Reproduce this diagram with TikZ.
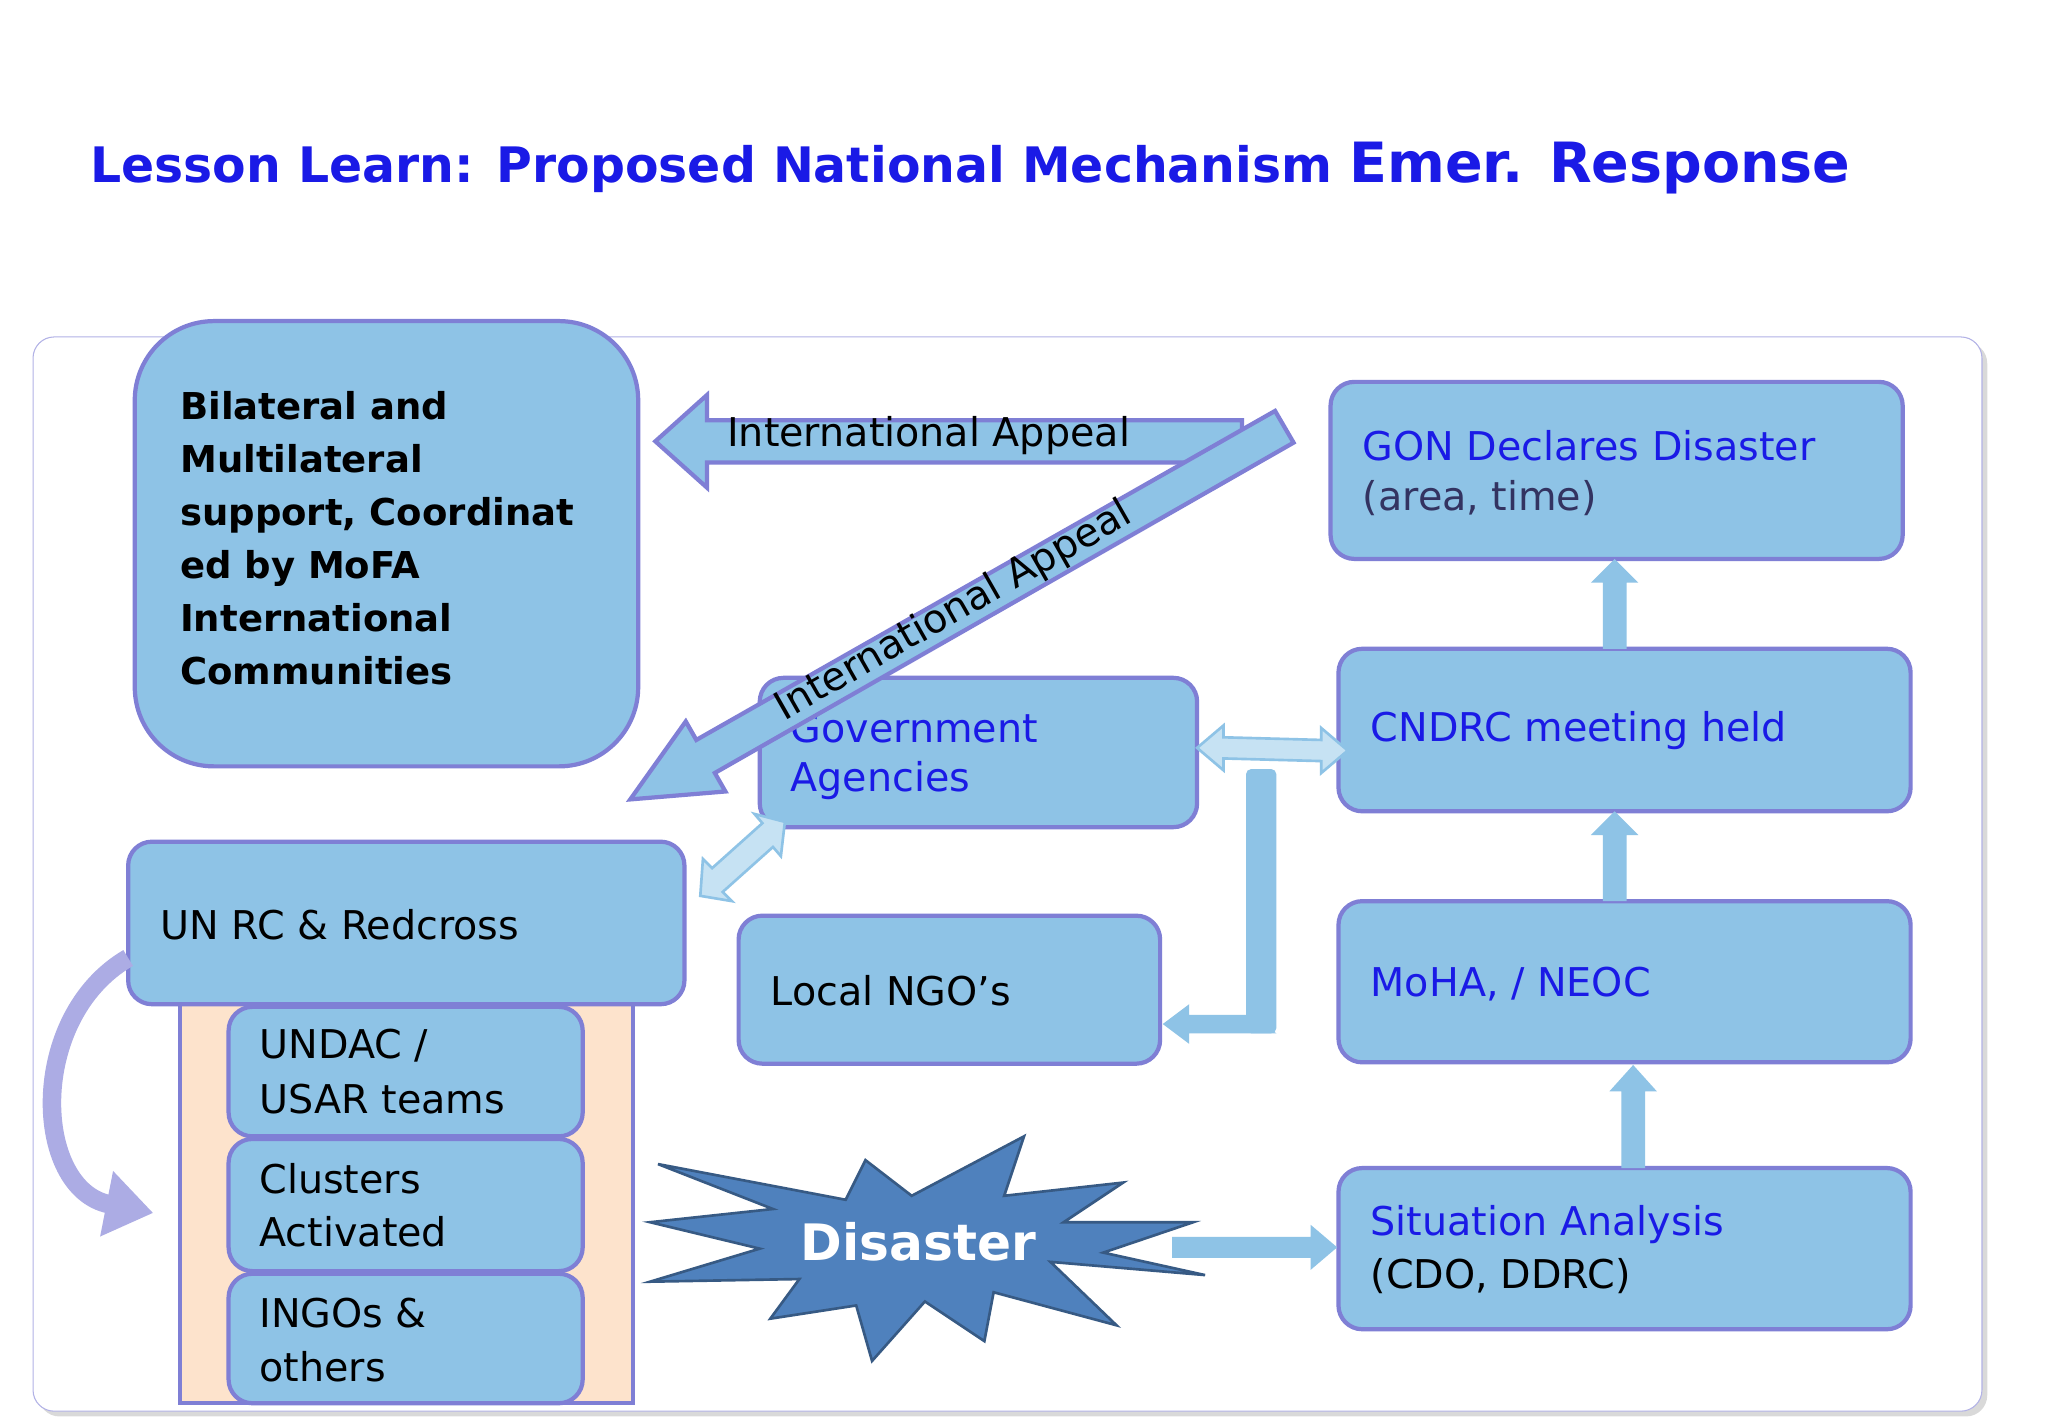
\documentclass[tikz,border=0pt]{standalone}
\usepackage{fontspec}
\setmainfont{DejaVu Sans}
\usetikzlibrary{arrows.meta}
\definecolor{lb}{HTML}{8EC3E6}
\definecolor{pb}{HTML}{7F7FD5}
\definecolor{tb}{HTML}{1A1AE6}
\definecolor{peach}{HTML}{FDE3CC}
\definecolor{lite}{HTML}{C6E2F3}
\definecolor{dis}{HTML}{4F81BD}
\tikzset{
 box/.style={draw=pb,line width=1.6pt,fill=lb,rounded corners=9pt},
 txt/.style={anchor=west,align=left,font=\fontsize{15}{20}\selectfont,inner sep=0pt},
 barrow/.style={fill=lb,draw=none},
 larrow/.style={fill=lite,draw=lb,line width=1pt}
}
\begin{document}
\begin{tikzpicture}[x=0.5pt,y=-0.5pt]
\useasboundingbox (0,0) rectangle (1550,1073);
\node[anchor=west,text=tb,font=\bfseries\fontsize{18.5}{22}\selectfont,inner sep=0] (title) at (68,127) {Lesson Learn: Proposed National Mechanism {\fontsize{21}{22}\selectfont Emer. Response}};
% frame
\fill[gray!30,rounded corners=8pt] (29,259) rectangle (1504,1072);
\draw[pb!60,fill=white,rounded corners=8pt] (25,255) rectangle (1500,1068);
% big box
\draw[box,rounded corners=30pt] (102,243) rectangle (483,580);
\node[txt,anchor=north west,font=\bfseries\fontsize{14}{20}\selectfont] (bil) at (136,296) {Bilateral and\\Multilateral\\support, Coordinat\\ed by MoFA\\International\\Communities};
% right column
\draw[box] (1007,289) rectangle (1440,423);
\node[txt,text=tb] (gon) at (1031,337) {GON Declares Disaster};
\node[txt,text=black!70!blue!60!gray] (gon2) at (1031,377) {(area, time)};
\draw[box] (1013,491) rectangle (1446,614);
\node[txt,text=tb] (cnd) at (1037,553) {CNDRC meeting held};
\draw[box] (1013,682) rectangle (1446,804);
\node[txt,text=tb] (moha) at (1037,745) {MoHA, / NEOC};
\draw[box] (1013,884) rectangle (1446,1006);
\node[txt,text=tb] (sit) at (1037,927) {Situation Analysis};
\node[txt] (sit2) at (1037,966) {(CDO, DDRC)};
% middle
\draw[box] (575,513) rectangle (906,626);
\node[txt,text=tb] (gov) at (598,551) {Government};
\node[txt,text=tb] (gov2) at (598,591) {Agencies};
\draw[box] (559,693) rectangle (878,805);
\node[txt] (ngo) at (583,750) {Local NGO’s};
% left
\draw[pb,line width=1.6pt,fill=peach] (136,740) rectangle (479,1062);
\draw[box] (97,637) rectangle (518,760);
\node[txt] (un) at (121,700) {UN RC \& Redcross};
\draw[box] (173,762) rectangle (441,860);
\node[txt] (u1) at (196,791) {UNDAC /};
\node[txt] (u2) at (196,832) {USAR teams};
\draw[box] (173,862) rectangle (441,962);
\node[txt] (c1) at (196,892) {Clusters};
\node[txt] (c2) at (196,932) {Activated};
\draw[box] (173,964) rectangle (441,1062);
\node[txt] (i1) at (196,994) {INGOs \&};
\node[txt] (i2) at (196,1034) {others};
% curved arrow
\draw[line width=7pt,color=pb!65,-{Triangle[length=18pt,width=24pt]}] (97,725) .. controls (20,770) and (25,900) .. (116,918);
% up arrows
\fill[barrow] (1227,884) -- (1227,826) -- (1218,826) -- (1236,806) -- (1254,826) -- (1245,826) -- (1245,884) -- cycle;
\fill[barrow] (1213,682) -- (1213,632) -- (1204,632) -- (1222,614) -- (1240,632) -- (1231,632) -- (1231,682) -- cycle;
\fill[barrow] (1213,491) -- (1213,441) -- (1204,441) -- (1222,423) -- (1240,441) -- (1231,441) -- (1231,491) -- cycle;
\fill[barrow] (887,936) -- (992,936) -- (992,927) -- (1012,944) -- (992,961) -- (992,952) -- (887,952) -- cycle;
% double arrow CNDRC-Gov
\draw[larrow] (906,566) -- (926,549) -- (926,558) -- (1000,560) -- (1000,551) -- (1020,568) -- (1000,585) -- (1000,576) -- (926,574) -- (926,583) -- cycle;
% vertical bar to Local NGO
\fill[barrow,rounded corners=2pt] (943,582) rectangle (966,782);
\fill[barrow] (966,782) -- (900,782) -- (900,790) -- (880,775) -- (900,760) -- (900,768) -- (943,768) -- cycle;
% diagonal double arrow
\draw[larrow] (530,678) -- (532,650) -- (539,657) -- (577,623) -- (571,616) -- (594,622) -- (591,648) -- (585,641) -- (547,675) -- (554,682) -- cycle;
% international appeal arrows
\draw[fill=lb,draw=pb,line width=1.6pt] (940,318) -- (535,318) -- (535,299) -- (496,334) -- (535,369) -- (535,350) -- (940,350) -- cycle;
\node[anchor=base west,inner sep=0,font=\fontsize{15}{18}\selectfont] (ia1) at (550,338) {International Appeal};
\draw[fill=lb,draw=pb,line width=1.6pt] (965,311) -- (527,560) -- (519,546) -- (477,605) -- (549,599) -- (541,585) -- (979,335) -- cycle;
\node[inner sep=0,rotate=29.7,font=\fontsize{15}{18}\selectfont] (ia2) at (722,463) {International Appeal};
% disaster star
\draw[fill=dis,draw=dis!70!black,line width=1pt] (498,881) -- (640,908) -- (655,878) -- (690,905) -- (775,860) -- (760,905) -- (850,895) -- (805,925) -- (903,925) -- (835,948) -- (912,965) -- (795,955) -- (845,1003) -- (752,978) -- (745,1015) -- (700,985) -- (660,1030) -- (648,988) -- (583,998) -- (605,968) -- (492,970) -- (575,945) -- (492,925) -- (585,915) -- cycle;
\node[text=white,font=\bfseries\fontsize{19}{22}\selectfont] (dst) at (695,940) {Disaster};
\end{tikzpicture}
\end{document}
